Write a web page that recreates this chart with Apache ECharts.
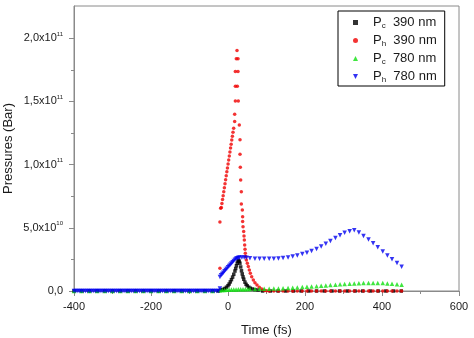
<!DOCTYPE html>
<html>
<head>
<meta charset="utf-8">
<script src="https://cdn.jsdelivr.net/npm/echarts@6/dist/echarts.min.js"></script>
<style>
  html, body { margin: 0; padding: 0; background: #fff; }
  #chart { width: 474px; height: 338px; }
</style>
</head>
<body>
<div id="chart"></div>
<script>
// Pressures are stored in units of 1e10 Bar, times in fs: [time, pressure]
const UNIT = 1e10;

// P_c at 390 nm (squares)
const pc390 = [
  [-400,0],[-380,0],[-360,0],[-340,0],[-320,0],[-300,0],[-280,0],[-260,0],[-240,0],[-220,0],
  [-200,0],[-180,0],[-160,0],[-140,0],[-120,0],[-100,0],[-80,0],[-60,0],[-40,0],
  [-25,0],[-20,0.05],[-15,0.1],[-12,0.13],[-8,0.2],[-4,0.3],[0,0.42],[3,0.55],[6,0.72],[9,0.9],
  [12,1.1],[15,1.32],[18,1.58],[20,1.78],[22,2.0],[24,2.2],[26,2.35],[27.5,2.43],[29,2.35],
  [31,2.2],[33,1.9],[35,1.6],[37,1.35],[39,1.12],[41,0.93],[44,0.7],[47,0.53],[50,0.41],
  [54,0.3],[58,0.22],[63,0.16],[70,0.11],[78,0.08],
  [90,0],[110,0],[130,0],[150,0],[170,0],[190,0],[210,0],[230,0],[250,0],[270,0],[290,0],
  [310,0],[330,0],[350,0],[370,0],[390,0],[410,0],[430,0],[450,0]
];

// P_h at 390 nm (circles)
const ph390 = [
  [-21,1.8],[-21,5.45],[-19,6.55],
  [-17.4,6.60],[-15.8,6.92],[-14.2,7.23],[-12.6,7.54],[-11.0,7.86],[-9.4,8.17],[-7.8,8.48],
  [-6.2,8.80],[-4.6,9.11],[-3.0,9.43],[-1.4,9.74],[0.2,10.05],[1.8,10.37],[3.4,10.68],
  [5.0,11.00],[6.6,11.31],[8.2,11.62],[9.8,11.94],[11.4,12.25],[13.0,12.57],[14.7,12.88],
  [17.3,13.41],[17.3,13.99],[19.1,15.04],[19.1,16.2],[19.1,17.36],[21.6,18.37],[23.4,19.03],
  [26,18.37],[26,17.36],[24.2,16.2],[26.8,15.04],[29.4,13.14],
  [31.2,11.96],[31.2,10.82],[32,9.79],[32.9,8.79],[34.6,7.86],[34.6,6.89],
  [37.2,6.41],[38,5.88],[38,5.49],[39,5.09],[40.7,4.7],[41.6,4.35],[42.4,4.04],[43.3,3.64],
  [44.2,3.3],[45,2.98],[45.9,2.72],[47.6,2.45],[50.2,2.19],[52.8,1.93],[55.4,1.66],[58,1.4],
  [61.5,1.13],[65.8,0.87],[70,0.66],[75.3,0.48],[81.3,0.29],[87.5,0.16],[94,0.06],[100,0.02],
  [107,0],[119,0],[131,0],[143,0],[156,0],[168,0],[180,0],[193,0],[205,0],[217,0],[230,0],
  [242,0],[254,0],[266,0],[279,0],[291,0],[303,0],[316,0],[328,0],[340,0],[352,0],[365,0],
  [377,0],[389,0],[402,0],[414,0],[426,0],[439,0],[451,0]
];

// P_c at 780 nm (up triangles)
const pc780 = [
  [-400,0],[-380,0],[-360,0],[-340,0],[-320,0],[-300,0],[-280,0],[-260,0],[-240,0],[-220,0],
  [-200,0],[-180,0],[-160,0],[-140,0],[-120,0],[-100,0],[-80,0],[-60,0],[-40,0],
  [-21,0.05],[-15,0.07],[-9,0.08],[-3,0.09],[3,0.1],[9,0.11],[15,0.12],[21,0.12],[27,0.13],
  [33,0.13],[39,0.14],[45,0.14],[51,0.15],[57,0.15],[70,0.16],[82,0.17],[94,0.17],[107,0.18],
  [119,0.19],[131,0.2],[143,0.22],[156,0.24],[168,0.26],[180,0.28],[193,0.31],[205,0.33],
  [217,0.36],[230,0.38],[242,0.41],[254,0.44],[266,0.47],[279,0.5],[291,0.53],[303,0.55],
  [316,0.58],[328,0.6],[340,0.62],[352,0.63],[365,0.64],[377,0.64],[389,0.64],[402,0.63],
  [414,0.6],[426,0.57],[439,0.53],[451,0.5]
];

// P_h at 780 nm (down triangles)
const ph780 = [
  [-400,0],[-395,0],[-390,0],[-385,0],[-380,0],[-375,0],[-370,0],[-365,0],[-360,0],[-355,0],
  [-350,0],[-345,0],[-340,0],[-335,0],[-330,0],[-325,0],[-320,0],[-315,0],[-310,0],[-305,0],
  [-300,0],[-295,0],[-290,0],[-285,0],[-280,0],[-275,0],[-270,0],[-265,0],[-260,0],[-255,0],
  [-250,0],[-245,0],[-240,0],[-235,0],[-230,0],[-225,0],[-220,0],[-215,0],[-210,0],[-205,0],
  [-200,0],[-195,0],[-190,0],[-185,0],[-180,0],[-175,0],[-170,0],[-165,0],[-160,0],[-155,0],
  [-150,0],[-145,0],[-140,0],[-135,0],[-130,0],[-125,0],[-120,0],[-115,0],[-110,0],[-105,0],
  [-100,0],[-95,0],[-90,0],[-85,0],[-80,0],[-75,0],[-70,0],[-65,0],[-60,0],[-55,0],
  [-50,0],[-45,0],[-40,0],[-35,0],[-30,0],[-25,0],[-21,0.2],
  [-21,1.1],[-18,1.25],[-15,1.35],[-12,1.45],[-9,1.56],[-6,1.66],[-3,1.77],[0,1.88],[3,1.98],
  [6,2.08],[9,2.18],[12,2.28],[15,2.38],[18,2.47],[21,2.55],[24,2.6],[27,2.63],[30,2.65],
  [36,2.66],[42,2.65],[48,2.63],[57,2.6],[70,2.56],[82,2.55],[94,2.55],[107,2.55],[119,2.56],
  [131,2.58],[143,2.61],[156,2.66],[168,2.73],[180,2.81],[193,2.92],[205,3.03],[217,3.16],
  [230,3.33],[242,3.52],[254,3.73],[266,3.96],[279,4.2],[291,4.42],[303,4.6],[316,4.73],
  [328,4.8],[340,4.62],[352,4.35],[365,4.07],[377,3.78],[389,3.47],[402,3.12],[414,2.8],
  [426,2.52],[439,2.22],[451,1.92]
];

const seriesNames = ['P_c 390 nm', 'P_h 390 nm', 'P_c 780 nm', 'P_h 780 nm'];
const yMajorTicks = [0, 5e10, 1e11, 1.5e11, 2e11];
const yMinorTicks = [2.5e10, 7.5e10, 1.25e11, 1.75e11];

const FONT = '"Liberation Sans", Arial, sans-serif';
const AXIS = '#8a8a8a';
const TEXT = '#1a1a1a';

function toBar(pts) { return pts.map(p => [p[0], p[1] * UNIT]); }

// "2,0x10^11" style labels with a raised exponent
function sciLabel(v) {
  if (v === 0) return '{b|0,0}';
  const e = Math.floor(Math.log10(v) + 1e-9);
  const m = (v / Math.pow(10, e)).toFixed(1).replace('.', ',');
  return '{b|' + m + 'x10}{s|' + e + '}';
}

function legendLabel(name) {
  const m = name.match(/^P_(\w) (.*)$/);
  return '{p|P}{s|' + m[1] + '}{t|  ' + m[2] + '}';
}

const chart = echarts.init(document.getElementById('chart'), null, { renderer: 'canvas' });

const common = { type: 'scatter', silent: true, emphasis: { disabled: true } };

chart.setOption({
  animation: false,
  backgroundColor: '#fff',
  textStyle: { fontFamily: FONT },
  grid: {
    left: 74, right: 15, top: 6, bottom: 47, containLabel: false, outerBoundsMode: 'none',
    show: true, borderColor: AXIS, borderWidth: 1, backgroundColor: 'transparent'
  },
  legend: {
    left: 338, top: 11, orient: 'vertical', selectedMode: false,
    padding: [5, 8, 2, 15], itemGap: 4, itemWidth: 5, itemHeight: 5,
    borderColor: '#000', borderWidth: 1, backgroundColor: '#fff',
    data: [
      { name: seriesNames[0], icon: 'rect' },
      { name: seriesNames[1], icon: 'circle' },
      { name: seriesNames[2], icon: 'triangle' },
      { name: seriesNames[3], icon: 'path://M0,0L10,0L5,10Z' }
    ],
    formatter: legendLabel,
    textStyle: {
      fontFamily: FONT, fontSize: 13, color: TEXT,
      rich: {
        p: { fontFamily: FONT, fontSize: 13, color: TEXT, padding: [0, 0, 0, 10], lineHeight: 15 },
        s: { fontFamily: FONT, fontSize: 8, color: TEXT, verticalAlign: 'bottom', lineHeight: 15 },
        t: { fontFamily: FONT, fontSize: 13, color: TEXT, lineHeight: 15 }
      }
    }
  },
  xAxis: {
    type: 'value', min: -400, max: 600, interval: 200,
    name: 'Time (fs)', nameLocation: 'middle', nameGap: 33, nameMoveOverlap: false,
    nameTextStyle: { fontFamily: FONT, fontSize: 13, color: TEXT },
    axisLine: { show: true, onZero: false, lineStyle: { color: AXIS, width: 1 } },
    axisTick: { show: true, inside: false, length: 5, lineStyle: { color: AXIS } },
    minorTick: { show: true, splitNumber: 2, length: 3, lineStyle: { color: AXIS } },
    axisLabel: { fontFamily: FONT, fontSize: 11, color: TEXT, margin: 10 },
    splitLine: { show: false }, minorSplitLine: { show: false }
  },
  yAxis: [
    {
      type: 'value', min: 0, max: 2.255e11,
      name: 'Pressures (Bar)', nameLocation: 'middle', nameGap: 59, nameMoveOverlap: false,
      nameTextStyle: { fontFamily: FONT, fontSize: 13, color: TEXT },
      axisLine: { show: true, onZero: false, lineStyle: { color: AXIS, width: 1 } },
      axisTick: { show: true, inside: false, length: 5, customValues: yMajorTicks, lineStyle: { color: AXIS } },
      axisLabel: {
        customValues: yMajorTicks, formatter: sciLabel, margin: 11,
        fontFamily: FONT, fontSize: 11, color: TEXT,
        rich: {
          b: { fontFamily: FONT, fontSize: 11, color: TEXT, lineHeight: 14 },
          s: { fontFamily: FONT, fontSize: 6, color: TEXT, verticalAlign: 'top', lineHeight: 14 }
        }
      },
      splitLine: { show: false }
    },
    {
      type: 'value', min: 0, max: 2.255e11, position: 'left',
      axisLine: { show: false, onZero: false },
      axisTick: { show: true, inside: false, length: 3, customValues: yMinorTicks, lineStyle: { color: AXIS } },
      axisLabel: { show: false },
      splitLine: { show: false }
    }
  ],
  series: [
    Object.assign({}, common, { name: seriesNames[0], data: toBar(pc390), symbol: 'rect', symbolSize: 3.5, itemStyle: { color: '#000000' } }),
    Object.assign({}, common, { name: seriesNames[1], data: toBar(ph390), symbol: 'circle', symbolSize: 3.5, itemStyle: { color: '#f00000' } }),
    Object.assign({}, common, { name: seriesNames[2], data: toBar(pc780), symbol: 'triangle', symbolSize: 4.5, itemStyle: { color: '#10e010' } }),
    Object.assign({}, common, { name: seriesNames[3], data: toBar(ph780), symbol: 'triangle', symbolRotate: 180, symbolSize: 4.5, itemStyle: { color: '#0000f0' } })
  ]
});
</script>
</body>
</html>
